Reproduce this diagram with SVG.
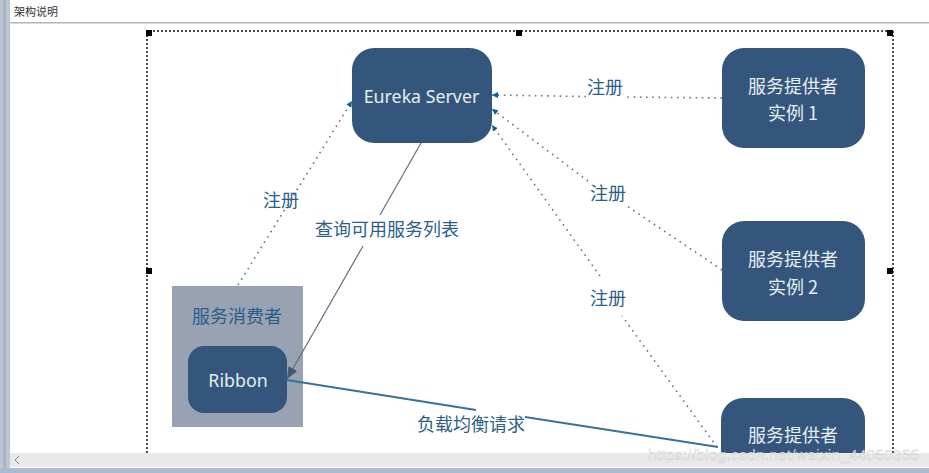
<svg xmlns="http://www.w3.org/2000/svg" width="929" height="473" viewBox="0 0 929 473">
<style>
text{font-family:"Noto Sans CJK SC","Noto Sans",sans-serif}
.node{fill:#34567c}
.w{fill:#e8edf2;font-size:18px;text-anchor:middle}
.en{fill:#e8edf2;font-size:17.800px;text-anchor:middle;font-family:"Noto Sans",sans-serif}
.l{fill:#2b5f8a;font-size:18px;text-anchor:middle}
.dot{fill:none;stroke:#4f7b9c;stroke-width:1.6;stroke-dasharray:1.6 4.600}
.h{fill:#000}
</style>
<defs>
<marker id="dotHead" markerWidth="8" markerHeight="8" refX="6" refY="3" orient="auto" markerUnits="userSpaceOnUse"><path d="M0 0L6 3L0 6z" fill="#175d92"/></marker>
<marker id="solidHead" markerWidth="14" markerHeight="12" refX="12" refY="5" orient="auto" markerUnits="userSpaceOnUse"><path d="M0 0L12 5L0 10z" fill="#44586e"/></marker>
</defs>
<rect width="929" height="473" fill="#fff"/>
<g id="window">
<rect x="0" y="0" width="10" height="473" fill="#bcc6d2"/>
<rect x="3" y="0" width="3" height="473" fill="#a8b4c2"/>
<rect x="10" y="22" width="919" height="1.500" fill="#b4b4b4"/>
<rect x="10" y="453" width="919" height="14" fill="#e9e9e9"/>
<rect x="0" y="468" width="929" height="5" fill="#a9bccd"/>
<text x="14" y="16" font-size="11" fill="#333">架构说明</text>
<path d="M19 456L15 460L19 464" fill="none" stroke="#888" stroke-width="1"/>
</g>
<g id="selection">
<path d="M147 453V31H893V453" fill="none" stroke="#111" stroke-width="1.500" stroke-dasharray="2 2"/>
<rect class="h" x="146" y="30" width="6" height="6"/>
<rect class="h" x="516" y="30" width="6" height="6"/>
<rect class="h" x="887" y="30" width="6" height="6"/>
<rect class="h" x="146" y="268" width="6" height="6"/>
<rect class="h" x="887" y="268" width="6" height="6"/>
</g>
<g id="eureka-server">
<rect class="node" x="352" y="48" width="140" height="95" rx="22"/>
<text class="en" x="421.500" y="103">Eureka Server</text>
</g>
<g id="provider-1">
<rect class="node" x="722" y="48" width="143" height="100" rx="22"/>
<text class="w" x="793" y="92.500">服务提供者</text>
<text class="w" x="793" y="119.500">实例 1</text>
</g>
<g id="provider-2">
<rect class="node" x="722" y="221" width="143" height="100" rx="22"/>
<text class="w" x="793" y="266">服务提供者</text>
<text class="w" x="793" y="293.500">实例 2</text>
</g>
<g id="provider-3">
<path class="node" d="M721 453V420a22 22 0 0 1 22-22h100a22 22 0 0 1 22 22V453z"/>
<text class="w" x="793" y="442">服务提供者</text>
</g>
<g id="consumer">
<rect x="172" y="286" width="131" height="141" fill="#98a2b3"/>
<text x="237" y="323" font-size="18" fill="#2b5f8a" text-anchor="middle">服务消费者</text>
</g>
<g id="ribbon">
<rect class="node" x="188" y="346" width="99" height="67" rx="16"/>
<text class="en" x="238" y="387">Ribbon</text>
</g>
<g id="connectors">
<path class="dot" d="M238 285L352 101" marker-end="url(#dotHead)"/>
<path class="dot" d="M722 98L623 97M586 96.500L492 95" marker-end="url(#dotHead)"/>
<path class="dot" d="M722 270L627 206M588 181L492 109" marker-end="url(#dotHead)"/>
<path class="dot" d="M717 447L622 316M600 276L492 125" marker-end="url(#dotHead)"/>
<path d="M421 143L380 215" fill="none" stroke="#5d6f82" stroke-width="1.200"/>
<path d="M363 246L287 379" fill="none" stroke="#5d6f82" stroke-width="1.200" marker-end="url(#solidHead)"/>
<path d="M287 380L476 410M525 417L718 447" fill="none" stroke="#38729c" stroke-width="2"/>
</g>
<g id="labels">
<text class="l" x="281" y="207">注册</text>
<text class="l" x="387" y="236">查询可用服务列表</text>
<text class="l" x="605" y="94">注册</text>
<text class="l" x="608" y="200">注册</text>
<text class="l" x="608" y="305">注册</text>
<text class="l" x="471" y="431">负载均衡请求</text>
</g>
<text id="watermark" x="648" y="460" font-size="15" fill="#fff" fill-opacity=".8" stroke="#999" stroke-opacity=".5" stroke-width=".5" style="font-family:'Liberation Sans',sans-serif" textLength="271">https://blog.csdn.net/weixin_44050355</text>
</svg>
